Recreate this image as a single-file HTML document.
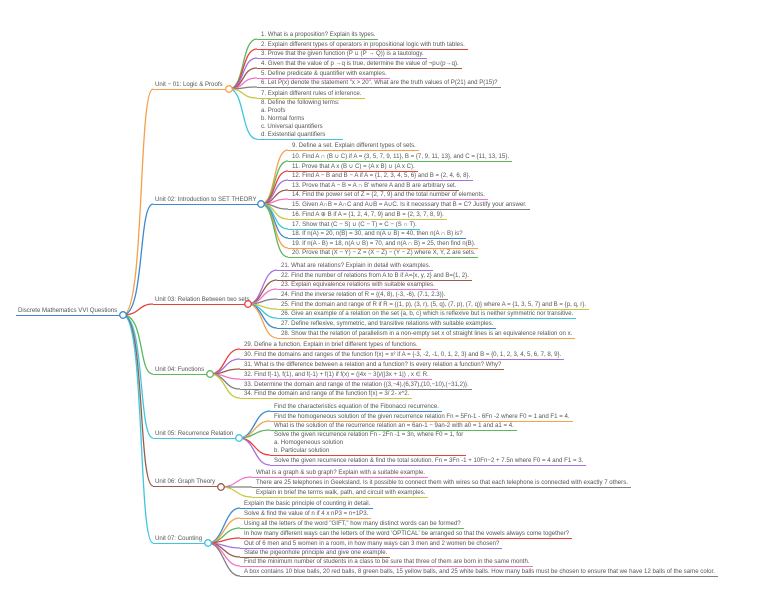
<!DOCTYPE html>
<html><head><meta charset="utf-8"><style>
body{margin:0;background:#fff;width:768px;height:600px;overflow:hidden;position:relative;font-family:"Liberation Sans",sans-serif}
.l{position:absolute;font-size:6.1px;line-height:8px;color:#555;padding:0 3px 0 4px;white-space:nowrap;border-bottom:1.3px solid #777}
.b{position:absolute;font-size:6.1px;line-height:8px;color:#555;padding-left:2px;white-space:nowrap;border-bottom:1.3px solid #777}
svg{position:absolute;left:0;top:0}
</style></head><body>
<svg width="768" height="600" fill="none" stroke-width="1.3">
<path d="M123,315 C145,315 138,89 153,89" stroke="#f5a04a"/>
<path d="M123,315 C145,315 138,204 153,204" stroke="#3d89d0"/>
<path d="M123,315 C140,315 138,304 153,304" stroke="#e8413c"/>
<path d="M123,315 C145,315 138,374 153,374" stroke="#5cb85c"/>
<path d="M123,315 C145,315 138,438 153,438" stroke="#3ec6df"/>
<path d="M123,315 C145,315 138,486 153,486" stroke="#9a5b4a"/>
<path d="M123,315 C145,315 138,543 153,543" stroke="#3ec6df"/>
<g>
<path d="M229,89 C245,89 241,39 257,39" stroke="#5cb85c"/>
<path d="M229,89 C245,89 241,49 257,49" stroke="#e8413c"/>
<path d="M229,89 C245,89 241,58 257,58" stroke="#a472e0"/>
<path d="M229,89 C245,89 241,68 257,68" stroke="#9a5b4a"/>
<path d="M229,89 C245,89 241,78 257,78" stroke="#f272c8"/>
<path d="M229,89 C245,89 241,87 257,87" stroke="#808080"/>
<path d="M229,89 C245,89 241,98 257,98" stroke="#c8c83c"/>
<path d="M229,89 C245,89 241,139 257,139" stroke="#3ec6df"/>
</g>
<g>
<path d="M261,204 C276,204 273,150 288,150" stroke="#f5a04a"/>
<path d="M261,204 C276,204 273,161 288,161" stroke="#5cb85c"/>
<path d="M261,204 C276,204 273,171 288,171" stroke="#e8413c"/>
<path d="M261,204 C276,204 273,180 288,180" stroke="#a472e0"/>
<path d="M261,204 C276,204 273,190 288,190" stroke="#9a5b4a"/>
<path d="M261,204 C276,204 273,199 288,199" stroke="#f272c8"/>
<path d="M261,204 C276,204 273,209 288,209" stroke="#808080"/>
<path d="M261,204 C276,204 273,219 288,219" stroke="#c8c83c"/>
<path d="M261,204 C276,204 273,229 288,229" stroke="#3ec6df"/>
<path d="M261,204 C276,204 273,238 288,238" stroke="#3d89d0"/>
<path d="M261,204 C276,204 273,248 288,248" stroke="#f5a04a"/>
<path d="M261,204 C276,204 273,257 288,257" stroke="#5cb85c"/>
</g>
<g>
<path d="M248,304 C263,304 262,270 277,270" stroke="#a472e0"/>
<path d="M248,304 C263,304 262,280 277,280" stroke="#9a5b4a"/>
<path d="M248,304 C263,304 262,289 277,289" stroke="#f272c8"/>
<path d="M248,304 C263,304 262,299 277,299" stroke="#808080"/>
<path d="M248,304 C263,304 262,309 277,309" stroke="#c8c83c"/>
<path d="M248,304 C263,304 262,318 277,318" stroke="#3ec6df"/>
<path d="M248,304 C263,304 262,328 277,328" stroke="#3d89d0"/>
<path d="M248,304 C263,304 262,338 277,338" stroke="#f5a04a"/>
</g>
<g>
<path d="M210,374 C226,374 224,349 240,349" stroke="#e8413c"/>
<path d="M210,374 C226,374 224,359 240,359" stroke="#a472e0"/>
<path d="M210,374 C226,374 224,369 240,369" stroke="#9a5b4a"/>
<path d="M210,374 C226,374 224,379 240,379" stroke="#f272c8"/>
<path d="M210,374 C226,374 224,389 240,389" stroke="#808080"/>
<path d="M210,374 C226,374 224,398 240,398" stroke="#c8c83c"/>
</g>
<g>
<path d="M239,438 C255,438 254,411 270,411" stroke="#3d89d0"/>
<path d="M239,438 C255,438 254,421 270,421" stroke="#f5a04a"/>
<path d="M239,438 C255,438 254,430 270,430" stroke="#5cb85c"/>
<path d="M239,438 C255,438 254,455 270,455" stroke="#e8413c"/>
<path d="M239,438 C255,438 254,465 270,465" stroke="#a472e0"/>
</g>
<g>
<path d="M221,487 C237,487 236,477 252,477" stroke="#f272c8"/>
<path d="M221,487 C237,487 236,487 252,487" stroke="#808080"/>
<path d="M221,487 C237,487 236,497 252,497" stroke="#c8c83c"/>
</g>
<g>
<path d="M208,543 C224,543 224,508 240,508" stroke="#3d89d0"/>
<path d="M208,543 C224,543 224,518 240,518" stroke="#f5a04a"/>
<path d="M208,543 C224,543 224,528 240,528" stroke="#5cb85c"/>
<path d="M208,543 C224,543 224,538 240,538" stroke="#e8413c"/>
<path d="M208,543 C224,543 224,548 240,548" stroke="#a472e0"/>
<path d="M208,543 C224,543 224,557 240,557" stroke="#9a5b4a"/>
<path d="M208,543 C224,543 224,566 240,566" stroke="#f272c8"/>
<path d="M208,543 C224,543 224,576 240,576" stroke="#808080"/>
</g>
</svg>

<div class="b" style="left:16px;top:307px;width:105px;border-color:#3d89d0">Discrete Mathematics VVI Questions</div>
<div class="b" style="left:153px;top:81px;width:74px;border-color:#f5a04a">Unit − 01: Logic &amp; Proofs</div>
<div class="b" style="left:153px;top:196px;width:106px;border-color:#3d89d0">Unit 02: Introduction to SET THEORY</div>
<div class="b" style="left:153px;top:296px;width:93px;border-color:#e8413c">Unit 03: Relation Between two sets</div>
<div class="b" style="left:153px;top:366px;width:55px;border-color:#5cb85c">Unit 04: Functions</div>
<div class="b" style="left:153px;top:430px;width:84px;border-color:#3ec6df">Unit 05: Recurrence Relation</div>
<div class="b" style="left:153px;top:478px;width:66px;border-color:#9a5b4a">Unit 06: Graph Theory</div>
<div class="b" style="left:153px;top:535px;width:53px;border-color:#3ec6df">Unit 07: Counting</div>

<div class="l" style="left:257px;top:31px;border-color:#5cb85c">1. What is a proposition? Explain its types.</div>
<div class="l" style="left:257px;top:41px;border-color:#e8413c">2. Explain different types of operators in propositional logic with truth tables.</div>
<div class="l" style="left:257px;top:50px;border-color:#a472e0">3. Prove that the given function (P ∪ (P → Q)) is a tautology.</div>
<div class="l" style="left:257px;top:60px;border-color:#9a5b4a">4. Given that the value of p →q is true, determine the value of ¬p∪(p→q).</div>
<div class="l" style="left:257px;top:70px;border-color:#f272c8">5. Define predicate &amp; quantifier with examples.</div>
<div class="l" style="left:257px;top:79px;border-color:#808080">6. Let P(x) denote the statement "x &gt; 20". What are the truth values of P(21) and P(15)?</div>
<div class="l" style="left:257px;top:90px;border-color:#c8c83c">7. Explain different rules of inference.</div>
<div class="l" style="left:257px;top:99px;border-color:#3ec6df">8. Define the following terms:<br>a. Proofs<br>b. Normal forms<br>c. Universal quantifiers<br>d. Existential quantifiers</div>

<div class="l" style="left:288px;top:142px;border-color:#f5a04a">9. Define a set. Explain different types of sets.</div>
<div class="l" style="left:288px;top:153px;border-color:#5cb85c">10. Find A ∩ (B ∪ C) if A = {3, 5, 7, 9, 11}, B = {7, 9, 11, 13}, and C = {11, 13, 15}.</div>
<div class="l" style="left:288px;top:163px;border-color:#e8413c">11. Prove that A x (B ∪ C) = (A x B) ∪ (A x C).</div>
<div class="l" style="left:288px;top:172px;border-color:#a472e0">12. Find A − B and B − A if A = {1, 2, 3, 4, 5, 6} and B = {2, 4, 6, 8}.</div>
<div class="l" style="left:288px;top:182px;border-color:#9a5b4a">13. Prove that A − B = A ∩ B' where A and B are arbitrary set.</div>
<div class="l" style="left:288px;top:191px;border-color:#f272c8">14. Find the power set of Z = {2, 7, 9} and the total number of elements.</div>
<div class="l" style="left:288px;top:201px;border-color:#808080">15. Given A∩B = A∩C and A∪B = A∪C. Is it necessary that B = C? Justify your answer.</div>
<div class="l" style="left:288px;top:211px;border-color:#c8c83c">16. Find A ⊕ B if A = {1, 2, 4, 7, 9} and B = {2, 3, 7, 8, 9}.</div>
<div class="l" style="left:288px;top:221px;border-color:#3ec6df">17. Show that (C − S) ∪ (C − T) = C − (S ∩ T).</div>
<div class="l" style="left:288px;top:230px;border-color:#3d89d0">18. If n(A) = 20, n(B) = 30, and n(A ∪ B) = 40, then n(A ∩ B) is?</div>
<div class="l" style="left:288px;top:240px;border-color:#f5a04a">19. If n(A - B) = 18, n(A ∪ B) = 70, and n(A ∩ B) = 25, then find n(B).</div>
<div class="l" style="left:288px;top:249px;border-color:#5cb85c">20. Prove that (X − Y) − Z = (X − Z) − (Y − Z) where X, Y, Z are sets.</div>

<div class="l" style="left:277px;top:262px;border-color:#a472e0">21. What are relations? Explain in detail with examples.</div>
<div class="l" style="left:277px;top:272px;border-color:#9a5b4a">22. Find the number of relations from A to B if A={x, y, z} and B={1, 2}.</div>
<div class="l" style="left:277px;top:281px;border-color:#f272c8">23. Explain equivalence relations with suitable examples.</div>
<div class="l" style="left:277px;top:291px;border-color:#808080">24. Find the inverse relation of R = {(4, 8), (-3, -6), (7.1, 2.3)}.</div>
<div class="l" style="left:277px;top:301px;border-color:#c8c83c">25. Find the domain and range of R if R = {(1, p), (3, r), (5, q), (7, p), (7, q)} where A = {1, 3, 5, 7} and B = {p, q, r}.</div>
<div class="l" style="left:277px;top:310px;border-color:#3ec6df">26. Give an example of a relation on the set {a, b, c} which is reflexive but is neither symmetric nor transitive.</div>
<div class="l" style="left:277px;top:320px;border-color:#3d89d0">27. Define reflexive, symmetric, and transitive relations with suitable examples.</div>
<div class="l" style="left:277px;top:330px;border-color:#f5a04a">28. Show that the relation of parallelism in a non-empty set x of straight lines is an equivalence relation on x.</div>

<div class="l" style="left:240px;top:341px;border-color:#e8413c">29. Define a function. Explain in brief different types of functions.</div>
<div class="l" style="left:240px;top:351px;border-color:#a472e0">30. Find the domains and ranges of the function f(x) = x² if A = {-3, -2, -1, 0, 1, 2, 3} and B = {0, 1, 2, 3, 4, 5, 6, 7, 8, 9}.</div>
<div class="l" style="left:240px;top:361px;border-color:#9a5b4a">31. What is the difference between a relation and a function? Is every relation a function? Why?</div>
<div class="l" style="left:240px;top:371px;border-color:#f272c8">32. Find f(-1), f(1), and f(-1) + f(1) if f(x) = (|4x − 3|)/(|3x + 1|) , x ∈ R.</div>
<div class="l" style="left:240px;top:381px;border-color:#808080">33. Determine the domain and range of the relation {(3,−4),(6,37),(10,−10),(−31,2)}.</div>
<div class="l" style="left:240px;top:390px;border-color:#c8c83c">34. Find the domain and range of the function f(x) = 3/ 2- x^2.</div>

<div class="l" style="left:270px;top:403px;border-color:#3d89d0">Find the characteristics equation of the Fibonacci recurrence.</div>
<div class="l" style="left:270px;top:413px;border-color:#f5a04a">Find the homogeneous solution of the given recurrence relation Fn = 5Fn-1 - 6Fn -2 where F0 = 1 and F1 = 4.</div>
<div class="l" style="left:270px;top:422px;border-color:#5cb85c">What is the solution of the recurrence relation an = 6an-1 − 9an-2 with a0 = 1 and a1 = 4.</div>
<div class="l" style="left:270px;top:431px;border-color:#e8413c">Solve the given recurrence relation Fn - 2Fn -1 = 3n, where F0 = 1, for<br>a. Homogeneous solution<br>b. Particular solution</div>
<div class="l" style="left:270px;top:457px;border-color:#a472e0">Solve the given recurrence relation &amp; find the total solution. Fn = 3Fn -1 + 10Fn−2 + 7.5n where F0 = 4 and F1 = 3.</div>

<div class="l" style="left:252px;top:469px;border-color:#f272c8">What is a graph &amp; sub graph? Explain with a suitable example.</div>
<div class="l" style="left:252px;top:479px;border-color:#808080">There are 25 telephones in Geeksland. Is it possible to connect them with wires so that each telephone is connected with exactly 7 others.</div>
<div class="l" style="left:252px;top:489px;border-color:#c8c83c">Explain in brief the terms walk, path, and circuit with examples.</div>

<div class="l" style="left:240px;top:500px;border-color:#3d89d0">Explain the basic principle of counting in detail.</div>
<div class="l" style="left:240px;top:510px;border-color:#f5a04a">Solve &amp; find the value of n if 4 x nP3 = n+1P3.</div>
<div class="l" style="left:240px;top:520px;border-color:#5cb85c">Using all the letters of the word "GIFT," how many distinct words can be formed?</div>
<div class="l" style="left:240px;top:530px;border-color:#e8413c">In how many different ways can the letters of the word 'OPTICAL' be arranged so that the vowels always come together?</div>
<div class="l" style="left:240px;top:540px;border-color:#a472e0">Out of 6 men and 5 women in a room, in how many ways can 3 men and 2 women be chosen?</div>
<div class="l" style="left:240px;top:549px;border-color:#9a5b4a">State the pigeonhole principle and give one example.</div>
<div class="l" style="left:240px;top:558px;border-color:#f272c8">Find the minimum number of students in a class to be sure that three of them are born in the same month.</div>
<div class="l" style="left:240px;top:568px;border-color:#808080">A box contains 10 blue balls, 20 red balls, 8 green balls, 15 yellow balls, and 25 white balls. How many balls must be chosen to ensure that we have 12 balls of the same color.</div>

<svg width="768" height="600" stroke-width="1.3" fill="#fff">
<circle cx="123" cy="315" r="3.3" stroke="#3d89d0"/>
<circle cx="229" cy="89" r="3.3" stroke="#f5a04a"/>
<circle cx="261" cy="204" r="3.3" stroke="#3d89d0"/>
<circle cx="248" cy="304" r="3.3" stroke="#e8413c"/>
<circle cx="210" cy="374" r="3.3" stroke="#5cb85c"/>
<circle cx="239" cy="438" r="3.3" stroke="#3ec6df"/>
<circle cx="221" cy="487" r="3.3" stroke="#9a5b4a"/>
<circle cx="208" cy="543" r="3.3" stroke="#3ec6df"/>
</svg>
</body></html>
